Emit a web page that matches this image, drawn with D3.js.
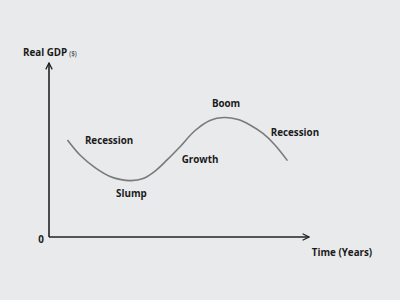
<!DOCTYPE html>
<html>
<head>
<meta charset="utf-8">
<script src="https://cdn.jsdelivr.net/npm/d3@7"></script>
<style>
  html, body { margin: 0; padding: 0; background: #e9eaec; }
  svg { display: block; }
  text { font-family: "Open Sans", "DejaVu Sans", sans-serif; fill: #1a1a1a; }
</style>
</head>
<body>
<svg id="chart" width="400" height="300"></svg>
<script>
// business cycle curve (time in years, real GDP index)
const cycleTime = [0.71, 1.19, 1.77, 2.35, 2.73, 3.15, 3.62, 4.08, 4.54, 5.04, 5.62, 6.19, 6.73, 7.27, 7.73, 8.23, 8.69, 9.17];
const cycleGdp  = [5.57, 4.71, 3.99, 3.48, 3.31, 3.24, 3.36, 3.79, 4.43, 5.19, 6.12, 6.70, 6.87, 6.75, 6.44, 5.95, 5.29, 4.39];

// phase labels placed in the same units
const phaseNames = ["Recession", "Slump", "Growth", "Boom", "Recession"];
const phaseTime  = [2.31, 3.17, 5.81, 6.81, 9.46];
const phaseGdp   = [5.36, 2.3, 4.25, 7.46, 5.8];

const svg = d3.select("#chart");

const x = d3.scaleLinear().domain([0, 10]).range([49, 309]);
const y = d3.scaleLinear().domain([0, 10]).range([237, 63]);

// arrow head
svg.append("defs").append("marker")
    .attr("id", "arrow")
    .attr("viewBox", "0 0 10 10")
    .attr("refX", 9).attr("refY", 5)
    .attr("markerWidth", 5).attr("markerHeight", 5)
    .attr("orient", "auto")
  .append("path")
    .attr("d", "M1,1 L9,5 L1,9")
    .attr("fill", "none")
    .attr("stroke", "#222")
    .attr("stroke-width", 1.6);

// axes
svg.append("line")
    .attr("x1", x(0)).attr("y1", y(0))
    .attr("x2", x(10)).attr("y2", y(0))
    .attr("stroke", "#222").attr("stroke-width", 1.6)
    .attr("marker-end", "url(#arrow)");
svg.append("line")
    .attr("x1", x(0)).attr("y1", y(0))
    .attr("x2", x(0)).attr("y2", y(10))
    .attr("stroke", "#222").attr("stroke-width", 1.6)
    .attr("marker-end", "url(#arrow)");

// axis labels
const yLab = svg.append("text")
    .attr("x", 23).attr("y", 56)
    .style("font-size", "9.8px").style("font-weight", 700);
yLab.append("tspan").text("Real GDP");
yLab.append("tspan").attr("dx", 2).style("font-size", "6.5px").style("font-weight", 400).text("($)");

svg.append("text")
    .attr("x", x(0) - 8).attr("y", y(0) + 6)
    .attr("text-anchor", "middle")
    .style("font-size", "9.8px").style("font-weight", 700)
    .text("0");

svg.append("text")
    .attr("x", 342).attr("y", 256)
    .attr("text-anchor", "middle")
    .style("font-size", "9.8px").style("font-weight", 700)
    .text("Time (Years)");

// curve
const line = d3.line()
    .x((d, i) => x(cycleTime[i]))
    .y((d, i) => y(cycleGdp[i]))
    .curve(d3.curveCatmullRom.alpha(0.5));

svg.append("path")
    .datum(cycleTime)
    .attr("d", line)
    .attr("fill", "none")
    .attr("stroke", "#7a7a7a")
    .attr("stroke-width", 1.6);

// phase labels
svg.selectAll(".phase")
    .data(phaseNames)
    .join("text")
    .attr("class", "phase")
    .attr("x", (d, i) => x(phaseTime[i]))
    .attr("y", (d, i) => y(phaseGdp[i]))
    .attr("text-anchor", "middle")
    .style("font-size", "9.8px").style("font-weight", 700)
    .text(d => d);
</script>
</body>
</html>
